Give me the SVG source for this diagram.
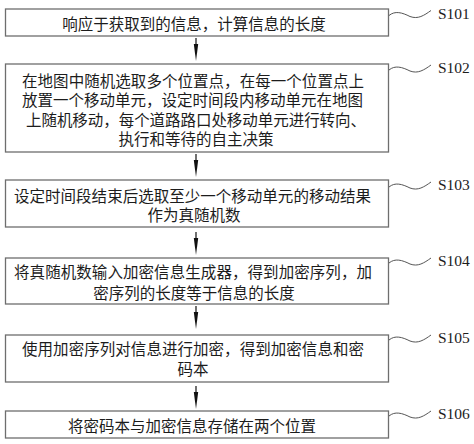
<svg xmlns="http://www.w3.org/2000/svg" width="474" height="444" viewBox="0 0 474 444">
<style>
.box{fill:#fff;stroke:#6e6e6e;stroke-width:1.3}
.t{font-family:"Noto Sans CJK SC","Noto Sans CJK JP",sans-serif;font-size:15.5px;fill:#1c1c1c}
.m{text-anchor:middle}
.lab{font-family:"Liberation Serif","Times New Roman",serif;font-size:15.5px;fill:#1c1c1c}
.sq{fill:none;stroke:#555;stroke-width:1}
.ln{stroke:#111;stroke-width:1.2}
.hd{fill:#111}
</style>
<defs>
<g id="arrow"><line class="ln" x1="0" y1="0" x2="0" y2="7"/><polygon class="hd" points="-2.2,6 2.2,6 0,23"/></g>
<path id="wave" class="sq" d="M389,2 C395,-3 402,-1 410,3 C418,6 424,2 431,-3"/>
</defs>
<rect width="474" height="444" fill="#fff"/>
<g id="connectors">
<use href="#arrow" x="196" y="38"/>
<use href="#arrow" x="196" y="154"/>
<use href="#arrow" x="196" y="232"/>
<use href="#arrow" x="196" y="306"/>
<use href="#arrow" x="196" y="386"/>
<use href="#wave" y="13.5"/>
<use href="#wave" y="68"/>
<use href="#wave" y="185"/>
<use href="#wave" y="261"/>
<use href="#wave" y="338"/>
<use href="#wave" y="414"/>
</g>
<g id="S101">
<rect class="box" x="5.5" y="9" width="383" height="27"/>
<text class="t m" x="194" y="29.5">响应于获取到的信息，计算信息的长度</text>
<text class="lab" x="438" y="18.5">S101</text>
</g>
<g id="S102">
<rect class="box" x="5.5" y="64" width="383" height="88"/>
<text class="t" x="22" y="86.5" textLength="342" lengthAdjust="spacing">在地图中随机选取多个位置点，在每一个位置点上</text>
<text class="t" x="22" y="106" textLength="341" lengthAdjust="spacing">放置一个移动单元，设定时间段内移动单元在地图</text>
<text class="t" x="26" y="125.5" textLength="340" lengthAdjust="spacing">上随机移动，每个道路路口处移动单元进行转向、</text>
<text class="t m" x="196" y="145">执行和等待的自主决策</text>
<text class="lab" x="438" y="73">S102</text>
</g>
<g id="S103">
<rect class="box" x="5.5" y="180" width="383" height="47"/>
<text class="t" x="14" y="202" textLength="357" lengthAdjust="spacing">设定时间段结束后选取至少一个移动单元的移动结果</text>
<text class="t m" x="194" y="220.5">作为真随机数</text>
<text class="lab" x="438" y="189.5">S103</text>
</g>
<g id="S104">
<rect class="box" x="5.5" y="258" width="383" height="46"/>
<text class="t" x="14" y="277.5" textLength="358" lengthAdjust="spacing">将真随机数输入加密信息生成器，得到加密序列，加</text>
<text class="t m" x="194" y="298.5">密序列的长度等于信息的长度</text>
<text class="lab" x="438" y="266">S104</text>
</g>
<g id="S105">
<rect class="box" x="5.5" y="335" width="383" height="47"/>
<text class="t" x="22" y="354.5" textLength="342" lengthAdjust="spacing">使用加密序列对信息进行加密，得到加密信息和密</text>
<text class="t m" x="193" y="374.5">码本</text>
<text class="lab" x="438" y="343">S105</text>
</g>
<g id="S106">
<rect class="box" x="5.5" y="411" width="383" height="27"/>
<text class="t m" x="192" y="431.5">将密码本与加密信息存储在两个位置</text>
<text class="lab" x="438" y="419">S106</text>
</g>
</svg>
